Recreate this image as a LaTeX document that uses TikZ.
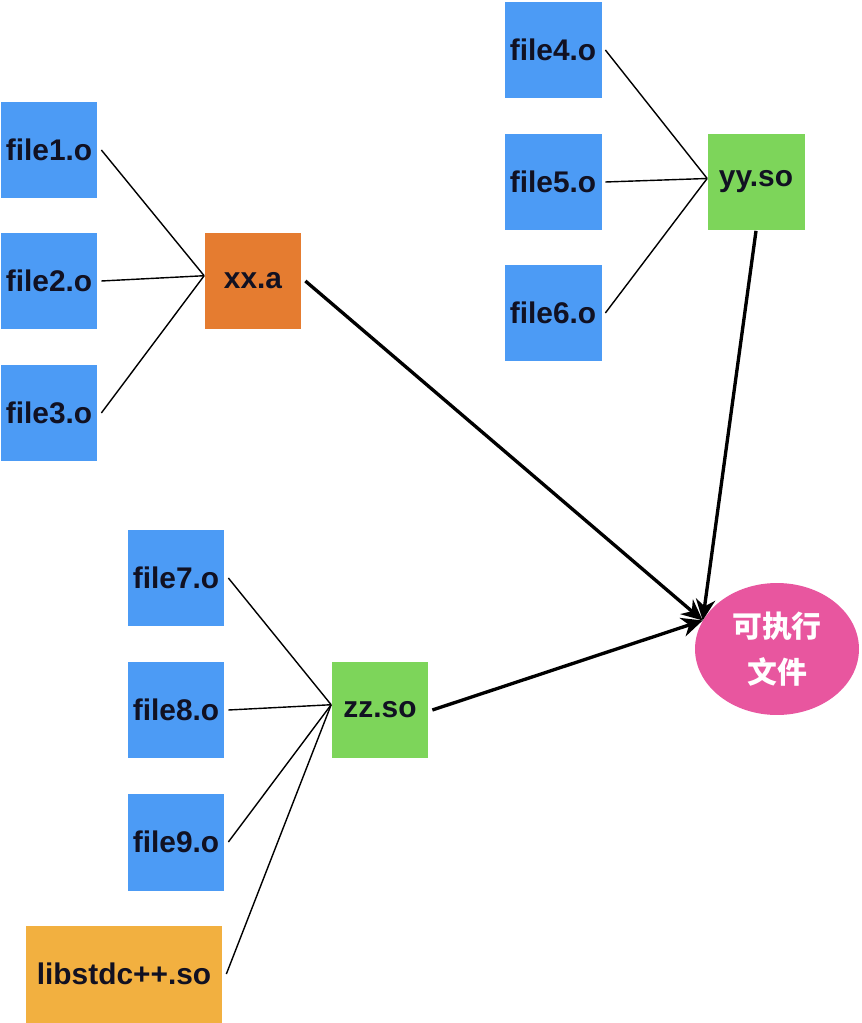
\documentclass[tikz,border=0pt]{standalone}
\usepackage{fontspec}
\setmainfont{Liberation Sans}
\newfontfamily\cjk{Noto Sans CJK SC}
\usepackage{xcolor}
\usepackage{tikz}
\usetikzlibrary{arrows.meta}
\usetikzlibrary{shapes.geometric}
\definecolor{objblue}{HTML}{4C9BF5}
\definecolor{arcorange}{HTML}{E57C30}
\definecolor{sogreen}{HTML}{7DD55A}
\definecolor{libyellow}{HTML}{F2B040}
\definecolor{exepink}{HTML}{E8569F}
\definecolor{inkblack}{HTML}{111122}
\tikzstyle{filebox} = [fill=objblue, rectangle, inner sep=0pt,
minimum width=1.94cm, minimum height=1.94cm, text=inkblack,
font=\fontsize{17}{20}\selectfont\bfseries]
\tikzstyle{arcbox} = [filebox, fill=arcorange]
\tikzstyle{sobox} = [filebox, fill=sogreen]
\tikzstyle{libbox} = [filebox, fill=libyellow, minimum width=3.94cm]
\tikzstyle{exenode} = [ellipse, fill=exepink, minimum width=3.28cm,
minimum height=2.64cm, inner sep=0pt, text=white, align=center,
font=\cjk\bfseries\fontsize{17}{26}\selectfont]
\tikzstyle{thinlink} = [draw=black, line width=0.8pt]
\tikzstyle{biglink} = [draw=black, line width=1.9pt, -{Stealth[length=12pt,width=11pt]}]

\begin{document}
\begin{tikzpicture}[x=0.02cm, y=-0.02cm]
    \useasboundingbox (0,0) rectangle (861,1023);
    % archive xx.a
    \node [filebox] (f1) at (49,150) {file1.o};
    \node [filebox] (f2) at (49,281) {file2.o};
    \node [filebox] (f3) at (49,413) {file3.o};
    \node [arcbox] (xxa) at (253,281) {xx.a};
    % shared yy.so
    \node [filebox] (f4) at (553,50) {file4.o};
    \node [filebox] (f5) at (553,182) {file5.o};
    \node [filebox] (f6) at (553,313) {file6.o};
    \node [sobox] (yyso) at (756,182) {yy.so};
    % shared zz.so
    \node [filebox] (f7) at (176,578) {file7.o};
    \node [filebox] (f8) at (176,710) {file8.o};
    \node [filebox] (f9) at (176,842) {file9.o};
    \node [libbox] (libcpp) at (124,974) {libstdc++.so};
    \node [sobox] (zzso) at (380,710) {zz.so};
    % executable
    \node [exenode] (exe) at (777,649) {可执行\\文件};

    \foreach \f in {f1,f2,f3}
        \draw [thinlink] ([xshift=2pt]\f.east) -- ([yshift=3pt]xxa.west);
    \foreach \f in {f4,f5,f6}
        \draw [thinlink] ([xshift=2pt]\f.east) -- ([yshift=2pt]yyso.west);
    \foreach \f in {f7,f8,f9,libcpp}
        \draw [thinlink] ([xshift=2pt]\f.east) -- ([yshift=3pt]zzso.west);

    \draw [biglink] ([xshift=2pt]xxa.east) -- (exe.159);
    \draw [biglink] (yyso.south) -- (exe.159);
    \draw [biglink] ([xshift=2pt]zzso.east) -- (exe.159);
\end{tikzpicture}
\end{document}
